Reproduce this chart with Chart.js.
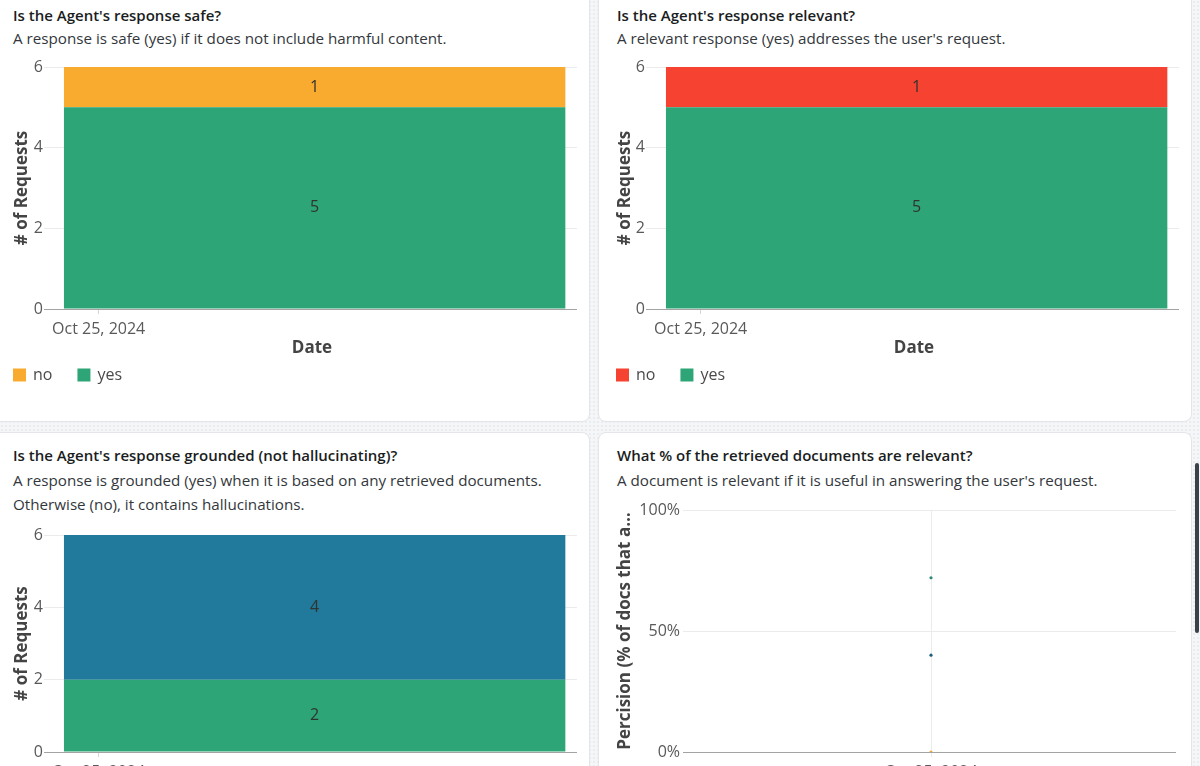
<!DOCTYPE html>
<html>
<head>
<meta charset="utf-8">
<script src="https://cdn.jsdelivr.net/npm/chart.js@4/dist/chart.umd.min.js"></script>
<style>
  html, body { margin: 0; padding: 0; }
  body {
    width: 1200px; height: 766px; overflow: hidden; position: relative;
    background-color: #f5f6f8;
    background-image: radial-gradient(#dcdfe3 0.6px, transparent 0.8px);
    background-size: 4px 4px;
    font-family: "Open Sans", sans-serif;
  }
  .panel { position: absolute; background: #fff; border: 1px solid #e3e5e9; border-radius: 8px; box-sizing: border-box; }
  .t { position: absolute; white-space: nowrap; font-size: 15px; font-weight: 600; color: #1a1d21; line-height: 20px; }
  .s { position: absolute; white-space: nowrap; font-size: 15.2px; color: #33373c; line-height: 24px; }
  canvas { position: absolute; }
  .wrap { position: absolute; }
  #scroll { position: absolute; left: 1195px; top: 463px; width: 4px; height: 170px; background: #3a414b; border-radius: 2px; }
</style>
</head>
<body>
<div class="panel" style="left:-8px;top:-10px;width:598px;height:432px"></div>
<div class="panel" style="left:598px;top:-10px;width:594px;height:432px"></div>
<div class="panel" style="left:-8px;top:432px;width:598px;height:400px"></div>
<div class="panel" style="left:598px;top:432px;width:594px;height:400px"></div>
<div id="scroll"></div>

<div class="t" style="left:13px;top:5px">Is the Agent's response safe?</div>
<div class="s" style="left:13px;top:26px">A response is safe (yes) if it does not include harmful content.</div>

<div class="t" style="left:617px;top:5px">Is the Agent's response relevant?</div>
<div class="s" style="left:617px;top:26px">A relevant response (yes) addresses the user's request.</div>

<div class="t" style="left:13px;top:445px">Is the Agent's response grounded (not hallucinating)?</div>
<div class="s" style="left:13px;top:468px">A response is grounded (yes) when it is based on any retrieved documents.</div>
<div class="s" style="left:13px;top:492px">Otherwise (no), it contains hallucinations.</div>

<div class="t" style="left:617px;top:445px">What % of the retrieved documents are relevant?</div>
<div class="s" style="left:617px;top:468px">A document is relevant if it is useful in answering the user's request.</div>

<div class="wrap" style="left:0px;top:50px;width:590px;height:350px"><canvas id="c1"></canvas></div>
<div class="wrap" style="left:602px;top:50px;width:590px;height:350px"><canvas id="c2"></canvas></div>
<div class="wrap" style="left:0px;top:520px;width:590px;height:330px"><canvas id="c3"></canvas></div>
<div class="wrap" style="left:603px;top:495px;width:587px;height:350px"><canvas id="c4"></canvas></div>

<script>
// ---------- DATA ----------
const dateLabels = ['Oct 25, 2024'];
const safeYes = [5];
const safeNo = [1];
const relevantYes = [5];
const relevantNo = [1];
const groundedYes = [2];
const groundedNo = [4];
const precisionValues = [72, 40, 0];
const requestTicks = [0, 2, 4, 6];
const percentTicks = [0, 50, 100];

// ---------- STYLE ----------
const FONT = '"Open Sans", sans-serif';
const GREEN = '#2ea577';
const ORANGE = '#f9ab30';
const RED = '#f54231';
const BLUE = '#21799b';
const GRID = '#ebebeb';
const ZERO = '#a3a3a3';
const TICKC = '#595959';
const TITLEC = '#444';

// value labels inside bar segments
const barValueLabels = {
  id: 'barValueLabels',
  afterDatasetsDraw(chart) {
    if (chart.config.type !== 'bar') return;
    const ctx = chart.ctx;
    chart.data.datasets.forEach((ds, di) => {
      const meta = chart.getDatasetMeta(di);
      meta.data.forEach((el, i) => {
        const p = el.getProps(['x', 'y', 'base'], true);
        ctx.save();
        ctx.font = '16px ' + FONT;
        ctx.fillStyle = '#2f3431';
        ctx.textAlign = 'center';
        ctx.textBaseline = 'middle';
        ctx.fillText(String(ds.data[i].y), p.x, (p.y + p.base) / 2);
        ctx.restore();
      });
    });
  }
};

// plotly-like legend (no first, then yes)
const plotlyLegend = {
  id: 'plotlyLegend',
  afterDraw(chart, args, opts) {
    if (!opts || !opts.show) return;
    const ctx = chart.ctx;
    const items = chart.data.datasets.map(d => ({label: d.label, color: d.backgroundColor})).reverse();
    let x = opts.x;
    const cy = opts.y;
    ctx.save();
    ctx.font = '16px ' + FONT;
    ctx.textBaseline = 'middle';
    items.forEach(it => {
      ctx.fillStyle = it.color;
      ctx.fillRect(x, cy - 6.5, 13, 13);
      ctx.fillStyle = '#4a4a4a';
      ctx.textAlign = 'left';
      ctx.fillText(it.label, x + 20, cy);
      x += 20 + ctx.measureText(it.label).width + 25;
    });
    ctx.restore();
  }
};

function barChart(id, yesVals, noVals, noColor, noLabel, legendPos, pad, titlePadTop) {
  const toPts = arr => arr.map((v, i) => ({x: i, y: v}));
  return new Chart(document.getElementById(id), {
    type: 'bar',
    data: {
      datasets: [
        {label: 'yes', data: toPts(yesVals), backgroundColor: GREEN, borderWidth: 0},
        {label: noLabel, data: toPts(noVals), backgroundColor: noColor, borderWidth: 0}
      ]
    },
    options: {
      responsive: true, maintainAspectRatio: false, animation: false,
      devicePixelRatio: 1,
      barPercentage: 0.946, categoryPercentage: 1,
      layout: {padding: pad},
      plugins: {legend: {display: false}, tooltip: {enabled: false}, plotlyLegend: legendPos},
      scales: {
        x: {
          type: 'linear', min: -1.01, max: 0.99, stacked: true, offset: false,
          afterBuildTicks: s => { s.ticks = [{value: -0.815}]; },
          afterFit: s => { s.height = 49; },
          grid: {display: true, offset: false, drawOnChartArea: false, drawTicks: true, tickLength: 5, color: '#d6d6d6'},
          border: {display: false},
          ticks: {callback: (v, i) => dateLabels[i], padding: 6, maxRotation: 0, autoSkip: false, font: {family: FONT, size: 16}, color: TICKC},
          title: {display: true, text: 'Date', font: {family: FONT, size: 17, weight: 'bold'}, color: TITLEC, padding: {top: 0, bottom: 0}}
        },
        y: {
          stacked: true, min: 0, max: 6,
          afterBuildTicks: s => { s.ticks = requestTicks.map(v => ({value: v})); },
          afterFit: s => { s.width = 47; },
          grid: {color: c => c.tick && c.tick.value === 0 ? ZERO : GRID, tickLength: 3, drawTicks: true},
          border: {display: false},
          ticks: {padding: 1, font: {family: FONT, size: 16}, color: TICKC},
          title: {display: true, text: '# of Requests', font: {family: FONT, size: 17, weight: 'bold'}, color: TITLEC, padding: {top: titlePadTop, bottom: 0}}
        }
      }
    },
    plugins: [barValueLabels, plotlyLegend]
  });
}

barChart('c1', safeYes, safeNo, ORANGE, 'no', {show: true, x: 13, y: 325}, {top: 17, right: 13, bottom: 42, left: 0}, 12);
barChart('c2', relevantYes, relevantNo, RED, 'no', {show: true, x: 14, y: 325}, {top: 17, right: 13, bottom: 42, left: 0}, 13);
barChart('c3', groundedYes, groundedNo, BLUE, 'no', {show: true, x: 13, y: 305}, {top: 15, right: 13, bottom: 49, left: 0}, 12);

// precision scatter
const pointColors = ['#2b8a72', '#1f5f80', '#f2a93b'];
new Chart(document.getElementById('c4'), {
  type: 'scatter',
  data: {
    datasets: [{
      label: 'Precision',
      data: precisionValues.map(v => ({x: 0, y: v})),
      pointRadius: 1.6, pointBorderWidth: 0,
      pointBackgroundColor: pointColors, borderColor: pointColors
    }]
  },
  options: {
    responsive: true, maintainAspectRatio: false, animation: false,
    devicePixelRatio: 1,
    layout: {padding: {top: 15, right: 14, bottom: 44, left: 0}},
    plugins: {legend: {display: false}, tooltip: {enabled: false}},
    scales: {
      x: {
        type: 'linear', min: -1, max: 1,
        afterBuildTicks: s => { s.ticks = [{value: 0}]; },
        afterFit: s => { s.height = 49; },
        grid: {color: GRID, drawTicks: true, tickLength: 5},
        border: {display: false},
        ticks: {callback: (v, i) => dateLabels[i], padding: 6, maxRotation: 0, font: {family: FONT, size: 16}, color: TICKC},
        title: {display: true, text: 'Date', font: {family: FONT, size: 17, weight: 'bold'}, color: TITLEC}
      },
      y: {
        min: 0, max: 100,
        afterBuildTicks: s => { s.ticks = percentTicks.map(v => ({value: v})); },
        afterFit: s => { s.width = 83; },
        grid: {color: c => c.tick && c.tick.value === 0 ? ZERO : GRID, tickLength: 3},
        border: {display: false},
        ticks: {padding: 3, callback: v => v + '%', font: {family: FONT, size: 16}, color: TICKC},
        title: {display: true, text: 'Percision (% of docs that a\u2026', font: {family: FONT, size: 17, weight: 'bold'}, color: TITLEC, padding: {top: 12, bottom: 0}}
      }
    }
  }
});
</script>
</body>
</html>
